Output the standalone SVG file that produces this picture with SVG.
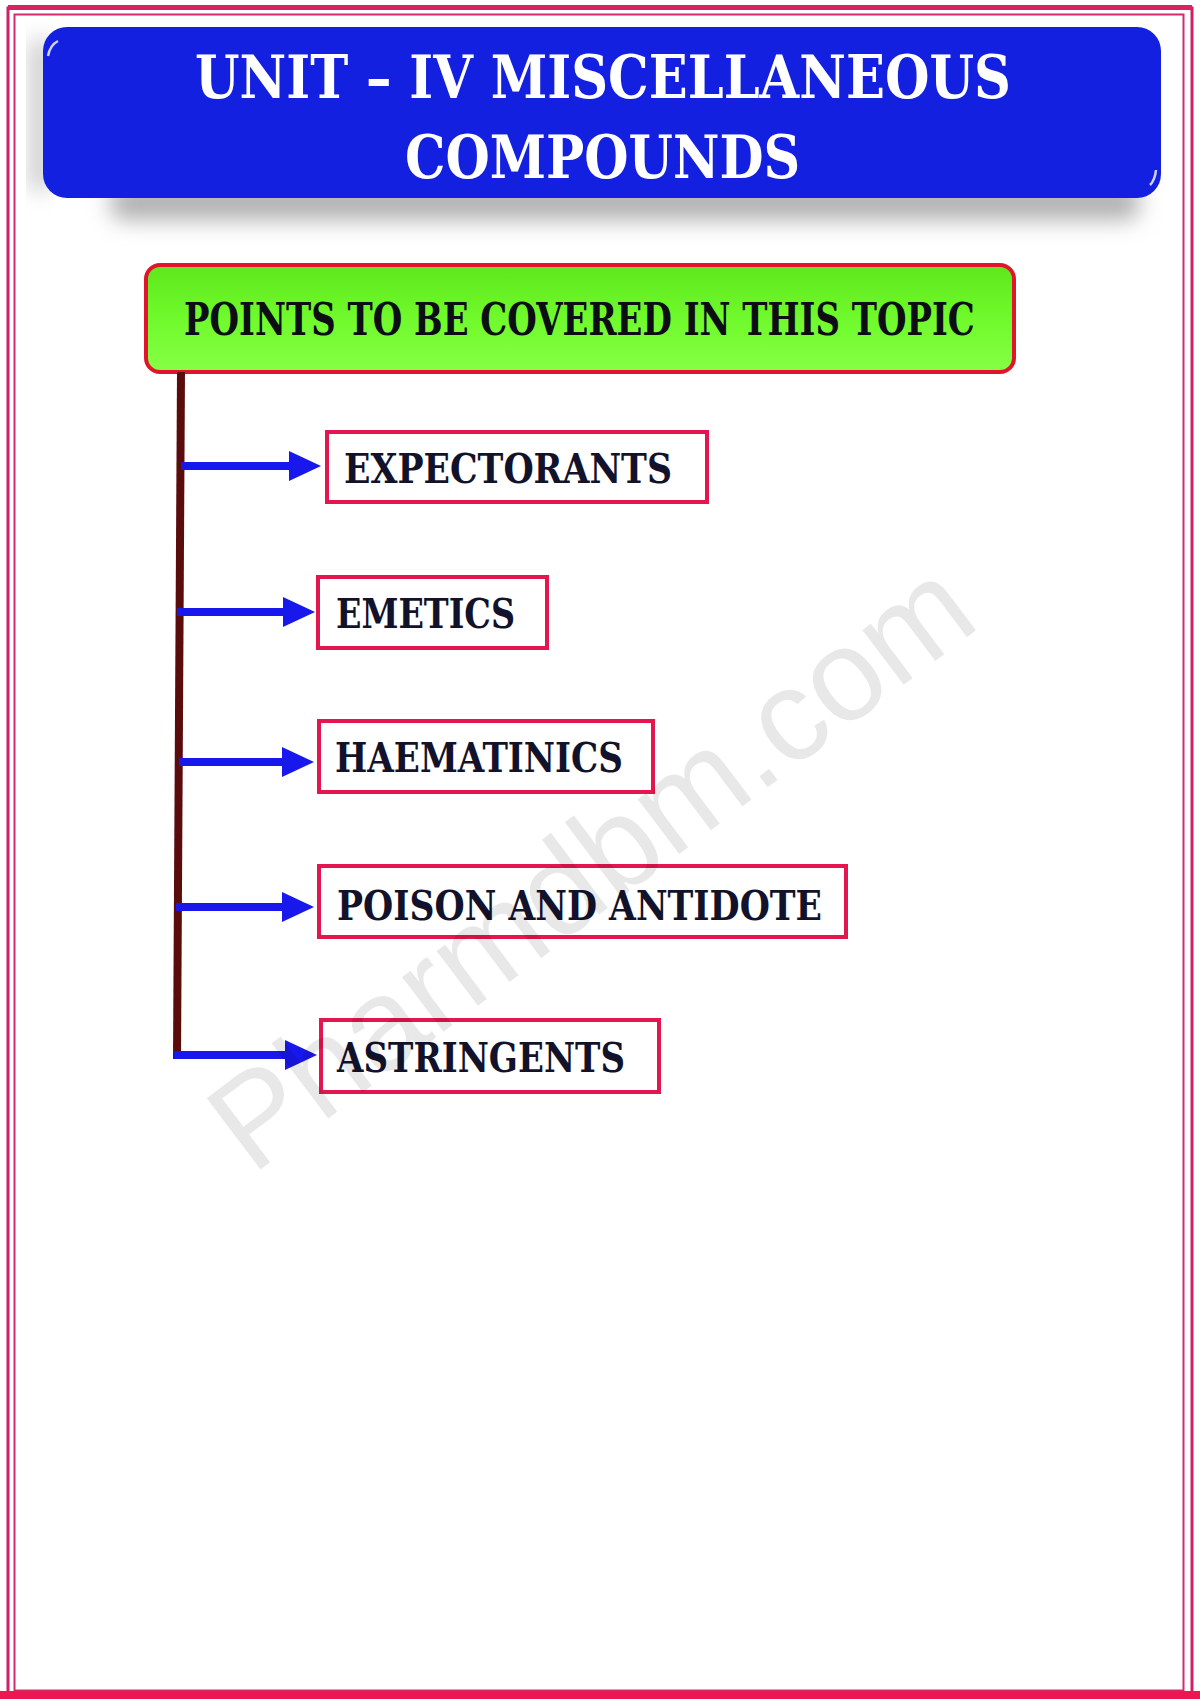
<svg xmlns="http://www.w3.org/2000/svg" width="1200" height="1699" viewBox="0 0 1200 1699">
<defs>
<style>
.ttl{font-family:"DejaVu Serif","Liberation Serif",serif;font-weight:bold;fill:#ffffff}
.hdr{font-family:"DejaVu Serif","Liberation Serif",serif;font-weight:bold;fill:#0d0d14}
.item{font-family:"DejaVu Serif","Liberation Serif",serif;font-weight:bold;font-size:41px;fill:#12122a}
.box{fill:#ffffff;stroke:#e3164f;stroke-width:4}
.arr{stroke:#1818ec;stroke-width:8;fill:none;marker-end:url(#ah)}
.wm{font-family:"Liberation Sans","Arial",sans-serif;font-size:130px;fill:#000000;fill-opacity:0.09}
</style>
<marker id="ah" markerWidth="32" markerHeight="30" viewBox="0 0 32 30" refX="1" refY="15" orient="auto" markerUnits="userSpaceOnUse">
<path d="M0,0 L32,15 L0,30 Z" fill="#1818ec"/>
</marker>
<linearGradient id="gg" x1="0" y1="0" x2="0" y2="1">
<stop offset="0" stop-color="#5ee81c"/>
<stop offset="0.5" stop-color="#70fa2c"/>
<stop offset="1" stop-color="#86ff46"/>
</linearGradient>
<filter id="blur" x="-20%" y="-100%" width="140%" height="300%">
<feGaussianBlur stdDeviation="11"/>
</filter>
</defs>

<rect x="0" y="0" width="1200" height="1699" fill="#ffffff"/>

<g id="frame">
<rect x="8" y="8" width="1184" height="1688" fill="none" stroke="#d01e68" stroke-width="3"/>
<rect x="14.5" y="14.5" width="1169" height="1676" fill="none" stroke="#d42a70" stroke-width="2"/>
<rect x="0" y="1691" width="1200" height="8" fill="#ec1650"/>
<rect x="8" y="5" width="1184" height="5" fill="#d6245e"/>
</g>

<g id="title">
<rect x="110" y="185" width="1030" height="35" rx="15" fill="#b0b0b0" filter="url(#blur)"/>
<rect x="30" y="40" width="20" height="150" fill="#c8c8c8" filter="url(#blur)"/>
<rect x="43" y="27" width="1118" height="171" rx="24" fill="#1420e0"/>
<path d="M48,56 Q50,45 58,41" fill="none" stroke="#ffffff" stroke-width="2.5" stroke-opacity="0.8"/>
<path d="M1156,170 Q1155,180 1150,185" fill="none" stroke="#ffffff" stroke-width="2.5" stroke-opacity="0.8"/>
<text class="ttl" transform="translate(195,98) scale(0.82,1)" font-size="60" textLength="995" lengthAdjust="spacingAndGlyphs">UNIT – IV MISCELLANEOUS</text>
<text class="ttl" transform="translate(405,178) scale(0.82,1)" font-size="60" textLength="482" lengthAdjust="spacingAndGlyphs">COMPOUNDS</text>
</g>

<g id="topic">
<rect x="146" y="265" width="868" height="107" rx="14" fill="url(#gg)" stroke="#e0142c" stroke-width="4"/>
<text class="hdr" transform="translate(184,335) scale(0.735,1)" font-size="45" textLength="1076" lengthAdjust="spacingAndGlyphs">POINTS TO BE COVERED IN THIS TOPIC</text>
</g>

<g id="connectors">
<line x1="181" y1="372" x2="177" y2="1059" stroke="#5a0c0c" stroke-width="8"/>
<path class="arr" d="M181,466 L290,466"/>
<path class="arr" d="M177,612 L284,612"/>
<path class="arr" d="M179,762 L283,762"/>
<path class="arr" d="M176,907 L283,907"/>
<path class="arr" d="M174,1055 L286,1055"/>
</g>

<g id="n-expectorants">
<rect class="box" x="327" y="432" width="380" height="70"/>
<text class="item" x="344" y="483" textLength="328" lengthAdjust="spacingAndGlyphs">EXPECTORANTS</text>
</g>
<g id="n-emetics">
<rect class="box" x="318" y="577" width="229" height="71"/>
<text class="item" x="336" y="628" textLength="179" lengthAdjust="spacingAndGlyphs">EMETICS</text>
</g>
<g id="n-haematinics">
<rect class="box" x="319" y="721" width="334" height="71"/>
<text class="item" x="335" y="772" textLength="288" lengthAdjust="spacingAndGlyphs">HAEMATINICS</text>
</g>
<g id="n-poison">
<rect class="box" x="319" y="866" width="527" height="71"/>
<text class="item" x="337" y="920" textLength="485" lengthAdjust="spacingAndGlyphs">POISON AND ANTIDOTE</text>
</g>
<g id="n-astringents">
<rect class="box" x="321" y="1020" width="338" height="72"/>
<text class="item" x="337" y="1072" textLength="288" lengthAdjust="spacingAndGlyphs">ASTRINGENTS</text>
</g>

<text class="wm" transform="translate(252,1176) rotate(-37)" textLength="915" lengthAdjust="spacingAndGlyphs">Pharmdbm.com</text>
</svg>
